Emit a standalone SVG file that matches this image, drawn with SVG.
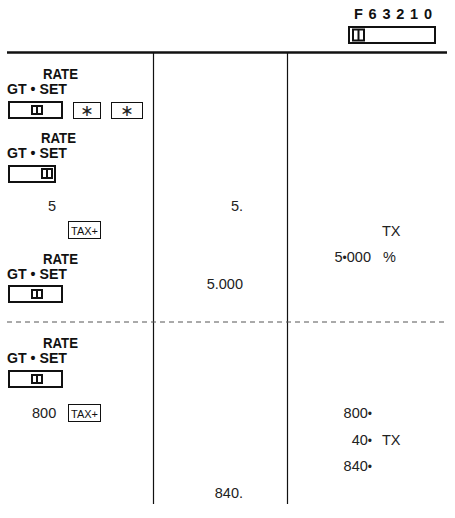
<svg xmlns="http://www.w3.org/2000/svg" width="455" height="518" viewBox="0 0 455 518">
<style>
.lbl{font-family:"Liberation Sans",Arial,sans-serif;font-weight:bold;font-size:14.5px;fill:#111}
.num{font-family:"Liberation Sans",Arial,sans-serif;font-size:14.5px;fill:#222}
.tax{font-family:"Liberation Sans",Arial,sans-serif;font-size:11.5px;fill:#111}
.sw{fill:#fff;stroke:#111;stroke-width:2}
.kb{fill:#fff;stroke:#111;stroke-width:1}
.ico{fill:#fff;stroke:#111;stroke-width:2}
.ast{font-family:"DejaVu Sans",sans-serif;font-size:16px;fill:#222}
</style>
<rect width="455" height="518" fill="#fff"/>
<g id="grid" stroke="#111" fill="none">
<line x1="7" y1="52.5" x2="447" y2="52.5" stroke-width="2.5"/>
<line x1="153.5" y1="52" x2="153.5" y2="504" stroke-width="1.2"/>
<line x1="287.5" y1="52" x2="287.5" y2="504" stroke-width="1.2"/>
<line x1="7" y1="322" x2="447" y2="322" stroke-width="1" stroke="#555" stroke-dasharray="5,4"/>
</g>
<g id="header">
<text class="lbl" x="354" y="19" font-size="15" textLength="78" lengthAdjust="spacing">F63210</text>
<rect class="sw" x="349" y="27" width="86" height="16"/>
<rect class="ico" x="353" y="29.5" width="11" height="11"/>
<line x1="358.5" y1="29.5" x2="358.5" y2="40.5" stroke="#111" stroke-width="2"/>
</g>
<g id="block1">
<text class="lbl" x="43" y="79" textLength="35" lengthAdjust="spacingAndGlyphs">RATE</text>
<text class="lbl" x="7" y="94" textLength="60" lengthAdjust="spacingAndGlyphs">GT • SET</text>
<rect class="sw" x="9" y="102" width="53" height="16"/>
<rect class="ico" x="32" y="106" width="10" height="8"/>
<line x1="37" y1="106" x2="37" y2="114" stroke="#111" stroke-width="2"/>
<rect class="kb" x="73.5" y="102.5" width="27" height="16"/>
<text class="ast" x="87" y="116" text-anchor="middle">∗</text>
<rect class="kb" x="111.5" y="102.5" width="31" height="16"/>
<text class="ast" x="127" y="116" text-anchor="middle">∗</text>
</g>
<g id="block2">
<text class="lbl" x="41" y="143" textLength="35" lengthAdjust="spacingAndGlyphs">RATE</text>
<text class="lbl" x="7" y="158" textLength="60" lengthAdjust="spacingAndGlyphs">GT • SET</text>
<rect class="sw" x="9" y="166" width="46" height="16"/>
<rect class="ico" x="42" y="169" width="10" height="9"/>
<line x1="47" y1="169" x2="47" y2="178" stroke="#111" stroke-width="2"/>
</g>
<g id="step5">
<text class="num" x="48" y="211">5</text>
<text class="num" x="243" y="211" text-anchor="end">5.</text>
</g>
<g id="tax1">
<rect class="kb" x="68.5" y="221.5" width="32" height="17"/>
<text class="tax" x="84.5" y="234.5" text-anchor="middle" textLength="27" lengthAdjust="spacingAndGlyphs">TAX+</text>
<text class="num" x="382" y="236">TX</text>
</g>
<g id="block3">
<text class="lbl" x="43" y="264" textLength="35" lengthAdjust="spacingAndGlyphs">RATE</text>
<text class="lbl" x="7" y="279" textLength="60" lengthAdjust="spacingAndGlyphs">GT • SET</text>
<rect class="sw" x="9" y="286" width="53" height="16"/>
<rect class="ico" x="32" y="290" width="10" height="8"/>
<line x1="37" y1="290" x2="37" y2="298" stroke="#111" stroke-width="2"/>
<text class="num" x="371" y="262" text-anchor="end">5<tspan font-size="12">•</tspan>000</text>
<text class="num" x="383" y="262">%</text>
<text class="num" x="243" y="289" text-anchor="end">5.000</text>
</g>
<g id="block4">
<text class="lbl" x="43" y="348" textLength="35" lengthAdjust="spacingAndGlyphs">RATE</text>
<text class="lbl" x="7" y="363" textLength="60" lengthAdjust="spacingAndGlyphs">GT • SET</text>
<rect class="sw" x="9" y="371" width="53" height="16"/>
<rect class="ico" x="32" y="375" width="10" height="8"/>
<line x1="37" y1="375" x2="37" y2="383" stroke="#111" stroke-width="2"/>
</g>
<g id="step800">
<text class="num" x="32" y="418">800</text>
<rect class="kb" x="68.5" y="404.5" width="32" height="17"/>
<text class="tax" x="84.5" y="417.5" text-anchor="middle" textLength="27" lengthAdjust="spacingAndGlyphs">TAX+</text>
<text class="num" x="372" y="418" text-anchor="end">800<tspan font-size="12">•</tspan></text>
<text class="num" x="372" y="445" text-anchor="end">40<tspan font-size="12">•</tspan></text>
<text class="num" x="382" y="445">TX</text>
<text class="num" x="372" y="471" text-anchor="end">840<tspan font-size="12">•</tspan></text>
<text class="num" x="243" y="498" text-anchor="end">840.</text>
</g>
</svg>
